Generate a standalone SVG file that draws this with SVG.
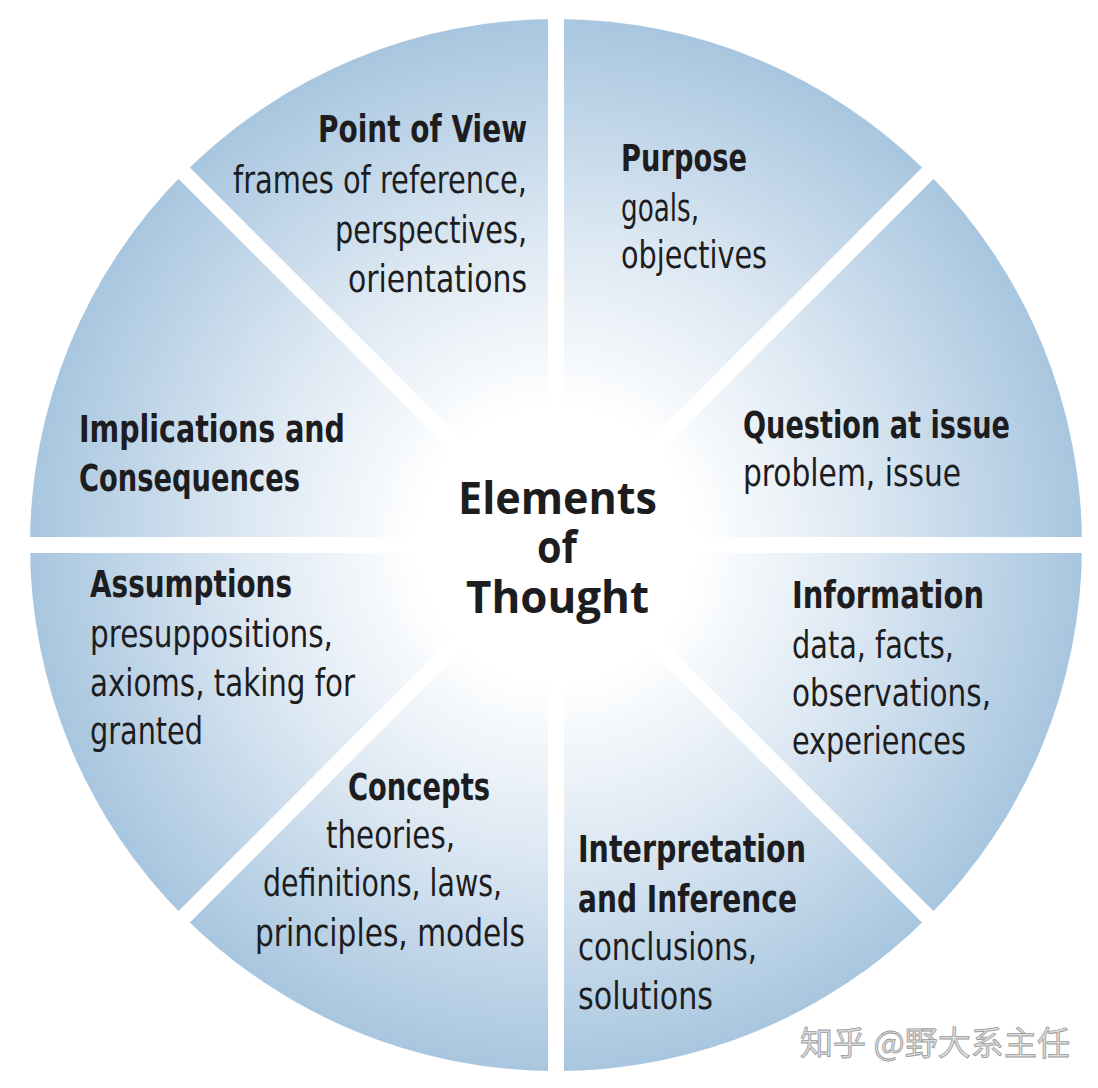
<svg xmlns="http://www.w3.org/2000/svg" width="1098" height="1088" viewBox="0 0 1098 1088">
<defs>
<radialGradient id="bg" gradientUnits="userSpaceOnUse" cx="556" cy="545" r="526">
<stop offset="0" stop-color="#ffffff"/>
<stop offset="0.26" stop-color="#ffffff"/>
<stop offset="0.6" stop-color="#dbe7f2"/>
<stop offset="1" stop-color="#a8c6df"/>
</radialGradient>
<style>
.w{fill:url(#bg);}
.t{font-family:"DejaVu Sans Condensed","DejaVu Sans","Liberation Sans",sans-serif;font-stretch:condensed;font-size:37px;fill:#1d1d1f;}
.b{font-weight:bold;}
.c{font-family:"Open Sans","DejaVu Sans",sans-serif;font-weight:bold;font-size:44px;fill:#1d1d1f;}
.d{stroke:#ffffff;stroke-width:16;stroke-linecap:butt;}
</style>
</defs>
<rect width="1098" height="1088" fill="#ffffff"/>

<g id="purpose">
<path class="w" d="M556,545 L556,19 A526,526 0 0 1 927.9,173.1 Z"/>
<text class="t b" x="621" y="171" textLength="126" lengthAdjust="spacingAndGlyphs">Purpose</text>
<text class="t" x="621" y="221" textLength="78" lengthAdjust="spacingAndGlyphs">goals,</text>
<text class="t" x="621" y="268" textLength="146" lengthAdjust="spacingAndGlyphs">objectives</text>
</g>

<g id="question">
<path class="w" d="M556,545 L927.9,173.1 A526,526 0 0 1 1082,545 Z"/>
<text class="t b" x="743" y="438" textLength="267" lengthAdjust="spacingAndGlyphs">Question at issue</text>
<text class="t" x="743" y="486" textLength="218" lengthAdjust="spacingAndGlyphs">problem, issue</text>
</g>

<g id="information">
<path class="w" d="M556,545 L1082,545 A526,526 0 0 1 927.9,916.9 Z"/>
<text class="t b" x="792" y="608" textLength="192" lengthAdjust="spacingAndGlyphs">Information</text>
<text class="t" x="792" y="658" textLength="162" lengthAdjust="spacingAndGlyphs">data, facts,</text>
<text class="t" x="792" y="706" textLength="199" lengthAdjust="spacingAndGlyphs">observations,</text>
<text class="t" x="792" y="754" textLength="174" lengthAdjust="spacingAndGlyphs">experiences</text>
</g>

<g id="interpretation">
<path class="w" d="M556,545 L927.9,916.9 A526,526 0 0 1 556,1071 Z"/>
<text class="t b" x="578" y="862" textLength="228" lengthAdjust="spacingAndGlyphs">Interpretation</text>
<text class="t b" x="578" y="912" textLength="219" lengthAdjust="spacingAndGlyphs">and Inference</text>
<text class="t" x="578" y="960" textLength="179" lengthAdjust="spacingAndGlyphs">conclusions,</text>
<text class="t" x="578" y="1009" textLength="135" lengthAdjust="spacingAndGlyphs">solutions</text>
</g>

<g id="concepts">
<path class="w" d="M556,545 L556,1071 A526,526 0 0 1 184.1,916.9 Z"/>
<text class="t b" x="348" y="800" textLength="142" lengthAdjust="spacingAndGlyphs">Concepts</text>
<text class="t" x="326" y="848" textLength="129" lengthAdjust="spacingAndGlyphs">theories,</text>
<text class="t" x="263" y="896" textLength="239" lengthAdjust="spacingAndGlyphs">definitions, laws,</text>
<text class="t" x="255" y="946" textLength="270" lengthAdjust="spacingAndGlyphs">principles, models</text>
</g>

<g id="assumptions">
<path class="w" d="M556,545 L184.1,916.9 A526,526 0 0 1 30,545 Z"/>
<text class="t b" x="90" y="597" textLength="202" lengthAdjust="spacingAndGlyphs">Assumptions</text>
<text class="t" x="90" y="647" textLength="243" lengthAdjust="spacingAndGlyphs">presuppositions,</text>
<text class="t" x="90" y="696" textLength="265" lengthAdjust="spacingAndGlyphs">axioms, taking for</text>
<text class="t" x="90" y="744" textLength="113" lengthAdjust="spacingAndGlyphs">granted</text>
</g>

<g id="implications">
<path class="w" d="M556,545 L30,545 A526,526 0 0 1 184.1,173.1 Z"/>
<text class="t b" x="79" y="442" textLength="266" lengthAdjust="spacingAndGlyphs">Implications and</text>
<text class="t b" x="79" y="491" textLength="221" lengthAdjust="spacingAndGlyphs">Consequences</text>
</g>

<g id="point-of-view">
<path class="w" d="M556,545 L184.1,173.1 A526,526 0 0 1 556,19 Z"/>
<text class="t b" x="318" y="142" textLength="209" lengthAdjust="spacingAndGlyphs">Point of View</text>
<text class="t" x="233" y="193" textLength="294" lengthAdjust="spacingAndGlyphs">frames of reference,</text>
<text class="t" x="335" y="243" textLength="192" lengthAdjust="spacingAndGlyphs">perspectives,</text>
<text class="t" x="348" y="292" textLength="179" lengthAdjust="spacingAndGlyphs">orientations</text>
</g>

<g id="dividers">
<line class="d" x1="556" y1="10" x2="556" y2="1080"/>
<line class="d" x1="20" y1="545" x2="1090" y2="545"/>
<line class="d" x1="177" y1="166" x2="935" y2="924"/>
<line class="d" x1="935" y1="166" x2="177" y2="924"/>
</g>

<g id="center">
<text class="c" x="458" y="514" textLength="199" lengthAdjust="spacingAndGlyphs">Elements</text>
<text class="c" x="537" y="563" textLength="40" lengthAdjust="spacingAndGlyphs">of</text>
<text class="c" x="466" y="613" textLength="183" lengthAdjust="spacingAndGlyphs">Thought</text>
</g>

<g id="watermark">
<text x="800" y="1055" font-family="'Noto Sans CJK SC','Noto Sans',sans-serif" font-size="33" fill="#dcdcdc" stroke="#9a9a9a" stroke-width="0.8" textLength="270" lengthAdjust="spacingAndGlyphs">知乎 @野大系主任</text>
</g>
</svg>
